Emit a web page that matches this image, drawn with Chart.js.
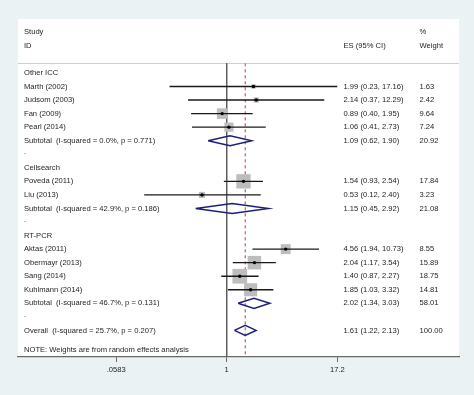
<!DOCTYPE html>
<html>
<head>
<meta charset="utf-8">
<script src="https://cdn.jsdelivr.net/npm/chart.js@4/dist/chart.umd.min.js"></script>
<style>
html,body{margin:0;padding:0;background:#eaf2f3;}
#wrap{width:474px;height:395px;}
</style>
</head>
<body>
<div id="wrap"><canvas id="c" width="474" height="395"></canvas></div>
<script>
// ---- data ----
const studyNames = ['Marth (2002)','Judsom (2003)','Fan (2009)','Pearl (2014)','Poveda (2011)','Liu (2013)','Aktas (2011)','Obermayr (2013)','Sang (2014)','Kuhlmann (2014)'];
const studyRows = [4,5,6,7,11,12,16,17,18,19];
const studyES = [1.99,2.14,0.89,1.06,1.54,0.53,4.56,2.04,1.40,1.85];
const studyLo = [0.23,0.37,0.40,0.41,0.93,0.12,1.94,1.17,0.87,1.03];
const studyHi = [17.16,12.29,1.95,2.73,2.54,2.40,10.73,3.54,2.27,3.32];
const studyWeight = [1.63,2.42,9.64,7.24,17.84,3.23,8.55,15.89,18.75,14.81];

const poolNames = ['Subtotal  (I-squared = 0.0%, p = 0.771)','Subtotal  (I-squared = 42.9%, p = 0.186)','Subtotal  (I-squared = 46.7%, p = 0.131)','Overall  (I-squared = 25.7%, p = 0.207)'];
const poolRows = [8,13,20,22];
const poolES = [1.09,1.15,2.02,1.61];
const poolLo = [0.62,0.45,1.34,1.22];
const poolHi = [1.90,2.92,3.03,2.13];
const poolWeight = [20.92,21.08,58.01,100.00];

const groupNames = ['Other ICC','Cellsearch','RT-PCR'];
const groupRows = [3,10,15];
const gapRows = [9,14,21];
const noteText = 'NOTE: Weights are from random effects analysis';
const noteRow = 23.45;

const tickValues = [0.0583, 1, 17.2];
const tickLabels = ['.0583','1','17.2'];
const overallES = 1.61;

// ---- build ----
const ln = Math.log;
const FONT = '7.6px "Liberation Sans", Arial, sans-serif';
const TXT = '#1e1e1e';
const datasets = [];

// reference lines (drawn underneath)
const sepRow = 2.29, botRow = 23.96;
datasets.push({order:10, data:[{x:0,y:sepRow},{x:0,y:botRow}], showLine:true, borderColor:'#5a5a5a', borderWidth:1, pointRadius:0});
datasets.push({order:10, data:[{x:ln(overallES),y:sepRow},{x:ln(overallES),y:botRow}], showLine:true, borderColor:'#c0393f', borderWidth:1, borderDash:[3,3], pointRadius:0});

// weight boxes
datasets.push({order:8, data:studyNames.map((n,i)=>({x:ln(studyES[i]),y:studyRows[i]})), pointStyle:'rect', pointRadius:studyWeight.map(w=>2.4*Math.sqrt(w)), backgroundColor:'#bdbdbd', borderWidth:0, showLine:false});
// CI lines
studyNames.forEach((n,i)=>{
  datasets.push({order:6, data:[{x:ln(studyLo[i]),y:studyRows[i]},{x:ln(studyHi[i]),y:studyRows[i]}], showLine:true, borderColor:'#1a1a1a', borderWidth:1.4, pointRadius:0});
});
// point estimates
datasets.push({order:4, data:studyNames.map((n,i)=>({x:ln(studyES[i]),y:studyRows[i]})), pointStyle:'circle', pointRadius:1.7, backgroundColor:'#000', borderColor:'#000', borderWidth:0, showLine:false});
// diamonds
const hh = 0.37;
poolNames.forEach((n,i)=>{
  const r = poolRows[i];
  datasets.push({order:2, data:[{x:ln(poolLo[i]),y:r},{x:ln(poolES[i]),y:r-hh},{x:ln(poolHi[i]),y:r},{x:ln(poolES[i]),y:r+hh},{x:ln(poolLo[i]),y:r}], showLine:true, borderColor:'#1f1f7a', borderWidth:1.5, pointRadius:0, tension:0, fill:false});
});

const fmt = v => v.toFixed(2);

const forestText = {
  id:'forestText',
  beforeDraw(chart){
    const {ctx, chartArea:a, scales:{y}} = chart;
    ctx.save();
    ctx.fillStyle = '#eaf2f3';
    ctx.fillRect(0,0,chart.width,chart.height);
    ctx.fillStyle = '#ffffff';
    ctx.fillRect(a.left, a.top, a.right-a.left, a.bottom-a.top);
    const ys = Math.round(y.getPixelForValue(sepRow))+0.5;
    ctx.strokeStyle = '#cfcfcf';
    ctx.lineWidth = 1;
    ctx.beginPath(); ctx.moveTo(a.left, ys); ctx.lineTo(a.right, ys); ctx.stroke();
    ctx.restore();
  },
  afterDatasetsDraw(chart){
    const {ctx, scales:{y}} = chart;
    const xl = 24, xe = 343.5, xw = 419.5;
    ctx.save();
    ctx.font = FONT;
    ctx.fillStyle = TXT;
    ctx.textBaseline = 'middle';
    ctx.textAlign = 'left';
    const put = (t,x,r)=>ctx.fillText(t,x,y.getPixelForValue(r));
    put('Study', xl, 0); put('ID', xl, 1);
    put('ES (95% CI)', xe, 1);
    put('%', xw, 0); put('Weight', xw, 1);
    groupNames.forEach((g,i)=>put(g, xl, groupRows[i]));
    gapRows.forEach(r=>put('.', xl, r-0.15));
    studyNames.forEach((n,i)=>{
      put(n, xl, studyRows[i]);
      put(fmt(studyES[i])+' ('+fmt(studyLo[i])+', '+fmt(studyHi[i])+')', xe, studyRows[i]);
      put(fmt(studyWeight[i]), xw, studyRows[i]);
    });
    poolNames.forEach((n,i)=>{
      put(n, xl, poolRows[i]);
      put(fmt(poolES[i])+' ('+fmt(poolLo[i])+', '+fmt(poolHi[i])+')', xe, poolRows[i]);
      put(fmt(poolWeight[i]), xw, poolRows[i]);
    });
    put(noteText, xl, noteRow);
    ctx.restore();
  }
};

new Chart(document.getElementById('c'), {
  type:'scatter',
  data:{datasets},
  plugins:[forestText],
  options:{
    responsive:false,
    animation:false,
    layout:{padding:{left:18, right:15, top:19, bottom:16}},
    plugins:{legend:{display:false}, tooltip:{enabled:false}},
    scales:{
      x:{
        type:'linear', position:'bottom',
        min:-5.365, max:5.972,
        afterBuildTicks:(s)=>{ s.ticks = tickValues.map(v=>({value:ln(v)})); },
        afterFit:(s)=>{ s.height = 22; },
        ticks:{
          autoSkip:false, maxRotation:0, padding:3,
          color:TXT, font:{family:'"Liberation Sans", Arial, sans-serif', size:7.6},
          callback:(v,i)=>tickLabels[i]
        },
        grid:{display:true, drawOnChartArea:false, drawTicks:true, tickLength:5, color:'#6a6a6a', lineWidth:1},
        border:{display:true, color:'#6a6a6a', width:1.2}
      },
      y:{
        type:'linear', reverse:true, display:false,
        min:-0.98, max:23.96
      }
    }
  }
});
</script>
</body>
</html>
